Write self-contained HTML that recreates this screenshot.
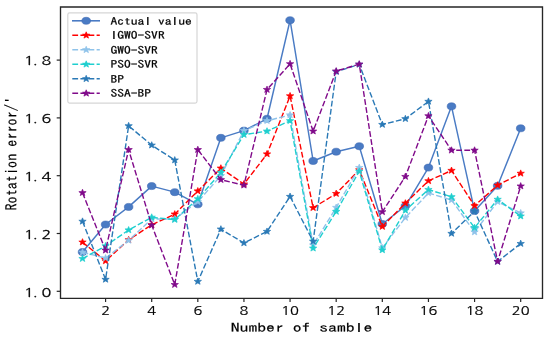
<!DOCTYPE html><html><head><meta charset="utf-8"><style>html,body{margin:0;padding:0;background:#fff;overflow:hidden}svg{display:block;filter:blur(0.4px)}</style></head><body><svg width="550" height="337" viewBox="0 0 550 337"><rect x="0" y="0" width="550" height="337" fill="#fff"/><g><polyline points="82.51,252.00 105.57,224.54 128.63,206.91 151.70,186.10 174.76,192.17 197.82,204.31 220.88,137.84 243.94,130.62 267.01,118.77 290.07,20.22 313.13,160.96 336.19,151.71 359.26,146.22 382.32,223.96 405.38,206.05 428.44,167.61 451.50,106.34 474.57,210.96 497.63,185.81 520.69,128.30" fill="none" stroke="#4a7bc4" stroke-width="1.45"  stroke-linejoin="round"/><ellipse cx="82.51" cy="252.00" rx="4.30" ry="3.50" fill="#4a7bc4" stroke="#3d68b3" stroke-width="0.6"/><ellipse cx="105.57" cy="224.54" rx="4.30" ry="3.50" fill="#4a7bc4" stroke="#3d68b3" stroke-width="0.6"/><ellipse cx="128.63" cy="206.91" rx="4.30" ry="3.50" fill="#4a7bc4" stroke="#3d68b3" stroke-width="0.6"/><ellipse cx="151.70" cy="186.10" rx="4.30" ry="3.50" fill="#4a7bc4" stroke="#3d68b3" stroke-width="0.6"/><ellipse cx="174.76" cy="192.17" rx="4.30" ry="3.50" fill="#4a7bc4" stroke="#3d68b3" stroke-width="0.6"/><ellipse cx="197.82" cy="204.31" rx="4.30" ry="3.50" fill="#4a7bc4" stroke="#3d68b3" stroke-width="0.6"/><ellipse cx="220.88" cy="137.84" rx="4.30" ry="3.50" fill="#4a7bc4" stroke="#3d68b3" stroke-width="0.6"/><ellipse cx="243.94" cy="130.62" rx="4.30" ry="3.50" fill="#4a7bc4" stroke="#3d68b3" stroke-width="0.6"/><ellipse cx="267.01" cy="118.77" rx="4.30" ry="3.50" fill="#4a7bc4" stroke="#3d68b3" stroke-width="0.6"/><ellipse cx="290.07" cy="20.22" rx="4.30" ry="3.50" fill="#4a7bc4" stroke="#3d68b3" stroke-width="0.6"/><ellipse cx="313.13" cy="160.96" rx="4.30" ry="3.50" fill="#4a7bc4" stroke="#3d68b3" stroke-width="0.6"/><ellipse cx="336.19" cy="151.71" rx="4.30" ry="3.50" fill="#4a7bc4" stroke="#3d68b3" stroke-width="0.6"/><ellipse cx="359.26" cy="146.22" rx="4.30" ry="3.50" fill="#4a7bc4" stroke="#3d68b3" stroke-width="0.6"/><ellipse cx="382.32" cy="223.96" rx="4.30" ry="3.50" fill="#4a7bc4" stroke="#3d68b3" stroke-width="0.6"/><ellipse cx="405.38" cy="206.05" rx="4.30" ry="3.50" fill="#4a7bc4" stroke="#3d68b3" stroke-width="0.6"/><ellipse cx="428.44" cy="167.61" rx="4.30" ry="3.50" fill="#4a7bc4" stroke="#3d68b3" stroke-width="0.6"/><ellipse cx="451.50" cy="106.34" rx="4.30" ry="3.50" fill="#4a7bc4" stroke="#3d68b3" stroke-width="0.6"/><ellipse cx="474.57" cy="210.96" rx="4.30" ry="3.50" fill="#4a7bc4" stroke="#3d68b3" stroke-width="0.6"/><ellipse cx="497.63" cy="185.81" rx="4.30" ry="3.50" fill="#4a7bc4" stroke="#3d68b3" stroke-width="0.6"/><ellipse cx="520.69" cy="128.30" rx="4.30" ry="3.50" fill="#4a7bc4" stroke="#3d68b3" stroke-width="0.6"/><polyline points="82.51,242.17 105.57,260.96 128.63,239.86 151.70,224.83 174.76,214.14 197.82,191.02 220.88,168.19 243.94,184.08 267.01,154.03 290.07,95.94 313.13,207.78 336.19,193.62 359.26,169.92 382.32,226.56 405.38,203.16 428.44,180.90 451.50,170.50 474.57,205.76 497.63,185.24 520.69,173.39" fill="none" stroke="#ff0000" stroke-width="1.4" stroke-dasharray="5.8,2.3" stroke-linejoin="round"/><polygon points="82.51,238.67 81.56,240.98 78.85,241.09 80.97,242.62 80.25,245.00 82.51,243.64 84.77,245.00 84.05,242.62 86.17,241.09 83.46,240.98" fill="#ff0000" stroke="#ff0000" stroke-width="0.7" stroke-linejoin="miter"/><polygon points="105.57,257.46 104.62,259.77 101.91,259.87 104.03,261.41 103.31,263.79 105.57,262.43 107.83,263.79 107.11,261.41 109.23,259.87 106.52,259.77" fill="#ff0000" stroke="#ff0000" stroke-width="0.7" stroke-linejoin="miter"/><polygon points="128.63,236.36 127.68,238.67 124.97,238.78 127.10,240.31 126.37,242.69 128.63,241.33 130.90,242.69 130.17,240.31 132.30,238.78 129.58,238.67" fill="#ff0000" stroke="#ff0000" stroke-width="0.7" stroke-linejoin="miter"/><polygon points="151.70,221.33 150.75,223.64 148.03,223.75 150.16,225.28 149.43,227.66 151.70,226.30 153.96,227.66 153.23,225.28 155.36,223.75 152.65,223.64" fill="#ff0000" stroke="#ff0000" stroke-width="0.7" stroke-linejoin="miter"/><polygon points="174.76,210.64 173.81,212.95 171.10,213.06 173.22,214.59 172.49,216.97 174.76,215.61 177.02,216.97 176.30,214.59 178.42,213.06 175.71,212.95" fill="#ff0000" stroke="#ff0000" stroke-width="0.7" stroke-linejoin="miter"/><polygon points="197.82,187.52 196.87,189.83 194.16,189.94 196.28,191.47 195.56,193.85 197.82,192.49 200.08,193.85 199.36,191.47 201.48,189.94 198.77,189.83" fill="#ff0000" stroke="#ff0000" stroke-width="0.7" stroke-linejoin="miter"/><polygon points="220.88,164.69 219.93,167.00 217.22,167.10 219.34,168.64 218.62,171.02 220.88,169.66 223.15,171.02 222.42,168.64 224.54,167.10 221.83,167.00" fill="#ff0000" stroke="#ff0000" stroke-width="0.7" stroke-linejoin="miter"/><polygon points="243.94,180.58 242.99,182.89 240.28,183.00 242.41,184.54 241.68,186.91 243.94,185.55 246.21,186.91 245.48,184.54 247.61,183.00 244.89,182.89" fill="#ff0000" stroke="#ff0000" stroke-width="0.7" stroke-linejoin="miter"/><polygon points="267.01,150.53 266.06,152.84 263.35,152.94 265.47,154.48 264.74,156.86 267.01,155.50 269.27,156.86 268.54,154.48 270.67,152.94 267.96,152.84" fill="#ff0000" stroke="#ff0000" stroke-width="0.7" stroke-linejoin="miter"/><polygon points="290.07,92.44 289.12,94.75 286.41,94.85 288.53,96.39 287.81,98.77 290.07,97.41 292.33,98.77 291.61,96.39 293.73,94.85 291.02,94.75" fill="#ff0000" stroke="#ff0000" stroke-width="0.7" stroke-linejoin="miter"/><polygon points="313.13,204.28 312.18,206.59 309.47,206.70 311.59,208.23 310.87,210.61 313.13,209.25 315.39,210.61 314.67,208.23 316.79,206.70 314.08,206.59" fill="#ff0000" stroke="#ff0000" stroke-width="0.7" stroke-linejoin="miter"/><polygon points="336.19,190.12 335.24,192.43 332.53,192.54 334.66,194.07 333.93,196.45 336.19,195.09 338.46,196.45 337.73,194.07 339.85,192.54 337.14,192.43" fill="#ff0000" stroke="#ff0000" stroke-width="0.7" stroke-linejoin="miter"/><polygon points="359.26,166.42 358.31,168.73 355.59,168.84 357.72,170.37 356.99,172.75 359.26,171.39 361.52,172.75 360.79,170.37 362.92,168.84 360.21,168.73" fill="#ff0000" stroke="#ff0000" stroke-width="0.7" stroke-linejoin="miter"/><polygon points="382.32,223.06 381.37,225.37 378.66,225.48 380.78,227.02 380.05,229.40 382.32,228.03 384.58,229.40 383.86,227.02 385.98,225.48 383.27,225.37" fill="#ff0000" stroke="#ff0000" stroke-width="0.7" stroke-linejoin="miter"/><polygon points="405.38,199.66 404.43,201.97 401.72,202.07 403.84,203.61 403.12,205.99 405.38,204.63 407.64,205.99 406.92,203.61 409.04,202.07 406.33,201.97" fill="#ff0000" stroke="#ff0000" stroke-width="0.7" stroke-linejoin="miter"/><polygon points="428.44,177.40 427.49,179.71 424.78,179.82 426.90,181.36 426.18,183.73 428.44,182.37 430.71,183.73 429.98,181.36 432.10,179.82 429.39,179.71" fill="#ff0000" stroke="#ff0000" stroke-width="0.7" stroke-linejoin="miter"/><polygon points="451.50,167.00 450.55,169.31 447.84,169.42 449.97,170.95 449.24,173.33 451.50,171.97 453.77,173.33 453.04,170.95 455.17,169.42 452.45,169.31" fill="#ff0000" stroke="#ff0000" stroke-width="0.7" stroke-linejoin="miter"/><polygon points="474.57,202.26 473.62,204.57 470.90,204.67 473.03,206.21 472.30,208.59 474.57,207.23 476.83,208.59 476.10,206.21 478.23,204.67 475.52,204.57" fill="#ff0000" stroke="#ff0000" stroke-width="0.7" stroke-linejoin="miter"/><polygon points="497.63,181.74 496.68,184.05 493.97,184.16 496.09,185.69 495.37,188.07 497.63,186.71 499.89,188.07 499.17,185.69 501.29,184.16 498.58,184.05" fill="#ff0000" stroke="#ff0000" stroke-width="0.7" stroke-linejoin="miter"/><polygon points="520.69,169.89 519.74,172.20 517.03,172.31 519.15,173.84 518.43,176.22 520.69,174.86 522.95,176.22 522.23,173.84 524.35,172.31 521.64,172.20" fill="#ff0000" stroke="#ff0000" stroke-width="0.7" stroke-linejoin="miter"/><polyline points="82.51,252.29 105.57,258.06 128.63,240.44 151.70,219.05 174.76,219.05 197.82,201.71 220.88,175.70 243.94,130.62 267.01,120.79 290.07,115.01 313.13,245.06 336.19,207.49 359.26,167.61 382.32,247.95 405.38,217.61 428.44,193.04 451.50,199.98 474.57,232.05 497.63,201.71 520.69,212.98" fill="none" stroke="#8fc3ea" stroke-width="1.4" stroke-dasharray="5.8,2.3" stroke-linejoin="round"/><polygon points="82.51,248.79 81.56,251.10 78.85,251.20 80.97,252.74 80.25,255.12 82.51,253.76 84.77,255.12 84.05,252.74 86.17,251.20 83.46,251.10" fill="#8fc3ea" stroke="#8fc3ea" stroke-width="0.7" stroke-linejoin="miter"/><polygon points="105.57,254.56 104.62,256.88 101.91,256.98 104.03,258.52 103.31,260.90 105.57,259.54 107.83,260.90 107.11,258.52 109.23,256.98 106.52,256.88" fill="#8fc3ea" stroke="#8fc3ea" stroke-width="0.7" stroke-linejoin="miter"/><polygon points="128.63,236.94 127.68,239.25 124.97,239.35 127.10,240.89 126.37,243.27 128.63,241.91 130.90,243.27 130.17,240.89 132.30,239.35 129.58,239.25" fill="#8fc3ea" stroke="#8fc3ea" stroke-width="0.7" stroke-linejoin="miter"/><polygon points="151.70,215.55 150.75,217.86 148.03,217.97 150.16,219.50 149.43,221.88 151.70,220.52 153.96,221.88 153.23,219.50 155.36,217.97 152.65,217.86" fill="#8fc3ea" stroke="#8fc3ea" stroke-width="0.7" stroke-linejoin="miter"/><polygon points="174.76,215.55 173.81,217.86 171.10,217.97 173.22,219.50 172.49,221.88 174.76,220.52 177.02,221.88 176.30,219.50 178.42,217.97 175.71,217.86" fill="#8fc3ea" stroke="#8fc3ea" stroke-width="0.7" stroke-linejoin="miter"/><polygon points="197.82,198.21 196.87,200.52 194.16,200.63 196.28,202.16 195.56,204.54 197.82,203.18 200.08,204.54 199.36,202.16 201.48,200.63 198.77,200.52" fill="#8fc3ea" stroke="#8fc3ea" stroke-width="0.7" stroke-linejoin="miter"/><polygon points="220.88,172.20 219.93,174.51 217.22,174.62 219.34,176.15 218.62,178.53 220.88,177.17 223.15,178.53 222.42,176.15 224.54,174.62 221.83,174.51" fill="#8fc3ea" stroke="#8fc3ea" stroke-width="0.7" stroke-linejoin="miter"/><polygon points="243.94,127.12 242.99,129.43 240.28,129.53 242.41,131.07 241.68,133.45 243.94,132.09 246.21,133.45 245.48,131.07 247.61,129.53 244.89,129.43" fill="#8fc3ea" stroke="#8fc3ea" stroke-width="0.7" stroke-linejoin="miter"/><polygon points="267.01,117.29 266.06,119.60 263.35,119.71 265.47,121.24 264.74,123.62 267.01,122.26 269.27,123.62 268.54,121.24 270.67,119.71 267.96,119.60" fill="#8fc3ea" stroke="#8fc3ea" stroke-width="0.7" stroke-linejoin="miter"/><polygon points="290.07,111.51 289.12,113.82 286.41,113.93 288.53,115.46 287.81,117.84 290.07,116.48 292.33,117.84 291.61,115.46 293.73,113.93 291.02,113.82" fill="#8fc3ea" stroke="#8fc3ea" stroke-width="0.7" stroke-linejoin="miter"/><polygon points="313.13,241.56 312.18,243.87 309.47,243.98 311.59,245.51 310.87,247.89 313.13,246.53 315.39,247.89 314.67,245.51 316.79,243.98 314.08,243.87" fill="#8fc3ea" stroke="#8fc3ea" stroke-width="0.7" stroke-linejoin="miter"/><polygon points="336.19,203.99 335.24,206.30 332.53,206.41 334.66,207.94 333.93,210.32 336.19,208.96 338.46,210.32 337.73,207.94 339.85,206.41 337.14,206.30" fill="#8fc3ea" stroke="#8fc3ea" stroke-width="0.7" stroke-linejoin="miter"/><polygon points="359.26,164.11 358.31,166.42 355.59,166.53 357.72,168.06 356.99,170.44 359.26,169.08 361.52,170.44 360.79,168.06 362.92,166.53 360.21,166.42" fill="#8fc3ea" stroke="#8fc3ea" stroke-width="0.7" stroke-linejoin="miter"/><polygon points="382.32,244.45 381.37,246.76 378.66,246.87 380.78,248.40 380.05,250.78 382.32,249.42 384.58,250.78 383.86,248.40 385.98,246.87 383.27,246.76" fill="#8fc3ea" stroke="#8fc3ea" stroke-width="0.7" stroke-linejoin="miter"/><polygon points="405.38,214.11 404.43,216.42 401.72,216.52 403.84,218.06 403.12,220.44 405.38,219.08 407.64,220.44 406.92,218.06 409.04,216.52 406.33,216.42" fill="#8fc3ea" stroke="#8fc3ea" stroke-width="0.7" stroke-linejoin="miter"/><polygon points="428.44,189.54 427.49,191.85 424.78,191.96 426.90,193.49 426.18,195.87 428.44,194.51 430.71,195.87 429.98,193.49 432.10,191.96 429.39,191.85" fill="#8fc3ea" stroke="#8fc3ea" stroke-width="0.7" stroke-linejoin="miter"/><polygon points="451.50,196.48 450.55,198.79 447.84,198.89 449.97,200.43 449.24,202.81 451.50,201.45 453.77,202.81 453.04,200.43 455.17,198.89 452.45,198.79" fill="#8fc3ea" stroke="#8fc3ea" stroke-width="0.7" stroke-linejoin="miter"/><polygon points="474.57,228.55 473.62,230.87 470.90,230.97 473.03,232.51 472.30,234.89 474.57,233.52 476.83,234.89 476.10,232.51 478.23,230.97 475.52,230.87" fill="#8fc3ea" stroke="#8fc3ea" stroke-width="0.7" stroke-linejoin="miter"/><polygon points="497.63,198.21 496.68,200.52 493.97,200.63 496.09,202.16 495.37,204.54 497.63,203.18 499.89,204.54 499.17,202.16 501.29,200.63 498.58,200.52" fill="#8fc3ea" stroke="#8fc3ea" stroke-width="0.7" stroke-linejoin="miter"/><polygon points="520.69,209.48 519.74,211.79 517.03,211.90 519.15,213.44 518.43,215.81 520.69,214.45 522.95,215.81 522.23,213.44 524.35,211.90 521.64,211.79" fill="#8fc3ea" stroke="#8fc3ea" stroke-width="0.7" stroke-linejoin="miter"/><polyline points="82.51,258.64 105.57,245.93 128.63,230.03 151.70,217.32 174.76,219.63 197.82,198.82 220.88,172.52 243.94,134.66 267.01,131.19 290.07,120.79 313.13,248.24 336.19,211.54 359.26,171.37 382.32,249.97 405.38,210.38 428.44,189.57 451.50,196.80 474.57,227.72 497.63,199.40 520.69,216.16" fill="none" stroke="#1fcfcf" stroke-width="1.4" stroke-dasharray="5.8,2.3" stroke-linejoin="round"/><polygon points="82.51,255.14 81.56,257.45 78.85,257.56 80.97,259.10 80.25,261.47 82.51,260.11 84.77,261.47 84.05,259.10 86.17,257.56 83.46,257.45" fill="#1fcfcf" stroke="#1fcfcf" stroke-width="0.7" stroke-linejoin="miter"/><polygon points="105.57,242.43 104.62,244.74 101.91,244.85 104.03,246.38 103.31,248.76 105.57,247.40 107.83,248.76 107.11,246.38 109.23,244.85 106.52,244.74" fill="#1fcfcf" stroke="#1fcfcf" stroke-width="0.7" stroke-linejoin="miter"/><polygon points="128.63,226.53 127.68,228.84 124.97,228.95 127.10,230.49 126.37,232.86 128.63,231.50 130.90,232.86 130.17,230.49 132.30,228.95 129.58,228.84" fill="#1fcfcf" stroke="#1fcfcf" stroke-width="0.7" stroke-linejoin="miter"/><polygon points="151.70,213.82 150.75,216.13 148.03,216.23 150.16,217.77 149.43,220.15 151.70,218.79 153.96,220.15 153.23,217.77 155.36,216.23 152.65,216.13" fill="#1fcfcf" stroke="#1fcfcf" stroke-width="0.7" stroke-linejoin="miter"/><polygon points="174.76,216.13 173.81,218.44 171.10,218.55 173.22,220.08 172.49,222.46 174.76,221.10 177.02,222.46 176.30,220.08 178.42,218.55 175.71,218.44" fill="#1fcfcf" stroke="#1fcfcf" stroke-width="0.7" stroke-linejoin="miter"/><polygon points="197.82,195.32 196.87,197.63 194.16,197.74 196.28,199.27 195.56,201.65 197.82,200.29 200.08,201.65 199.36,199.27 201.48,197.74 198.77,197.63" fill="#1fcfcf" stroke="#1fcfcf" stroke-width="0.7" stroke-linejoin="miter"/><polygon points="220.88,169.02 219.93,171.33 217.22,171.44 219.34,172.98 218.62,175.35 220.88,173.99 223.15,175.35 222.42,172.98 224.54,171.44 221.83,171.33" fill="#1fcfcf" stroke="#1fcfcf" stroke-width="0.7" stroke-linejoin="miter"/><polygon points="243.94,131.16 242.99,133.47 240.28,133.58 242.41,135.12 241.68,137.49 243.94,136.13 246.21,137.49 245.48,135.12 247.61,133.58 244.89,133.47" fill="#1fcfcf" stroke="#1fcfcf" stroke-width="0.7" stroke-linejoin="miter"/><polygon points="267.01,127.69 266.06,130.00 263.35,130.11 265.47,131.65 264.74,134.03 267.01,132.66 269.27,134.03 268.54,131.65 270.67,130.11 267.96,130.00" fill="#1fcfcf" stroke="#1fcfcf" stroke-width="0.7" stroke-linejoin="miter"/><polygon points="290.07,117.29 289.12,119.60 286.41,119.71 288.53,121.24 287.81,123.62 290.07,122.26 292.33,123.62 291.61,121.24 293.73,119.71 291.02,119.60" fill="#1fcfcf" stroke="#1fcfcf" stroke-width="0.7" stroke-linejoin="miter"/><polygon points="313.13,244.74 312.18,247.05 309.47,247.16 311.59,248.69 310.87,251.07 313.13,249.71 315.39,251.07 314.67,248.69 316.79,247.16 314.08,247.05" fill="#1fcfcf" stroke="#1fcfcf" stroke-width="0.7" stroke-linejoin="miter"/><polygon points="336.19,208.04 335.24,210.35 332.53,210.45 334.66,211.99 333.93,214.37 336.19,213.01 338.46,214.37 337.73,211.99 339.85,210.45 337.14,210.35" fill="#1fcfcf" stroke="#1fcfcf" stroke-width="0.7" stroke-linejoin="miter"/><polygon points="359.26,167.87 358.31,170.18 355.59,170.28 357.72,171.82 356.99,174.20 359.26,172.84 361.52,174.20 360.79,171.82 362.92,170.28 360.21,170.18" fill="#1fcfcf" stroke="#1fcfcf" stroke-width="0.7" stroke-linejoin="miter"/><polygon points="382.32,246.47 381.37,248.78 378.66,248.89 380.78,250.43 380.05,252.80 382.32,251.44 384.58,252.80 383.86,250.43 385.98,248.89 383.27,248.78" fill="#1fcfcf" stroke="#1fcfcf" stroke-width="0.7" stroke-linejoin="miter"/><polygon points="405.38,206.88 404.43,209.19 401.72,209.30 403.84,210.83 403.12,213.21 405.38,211.85 407.64,213.21 406.92,210.83 409.04,209.30 406.33,209.19" fill="#1fcfcf" stroke="#1fcfcf" stroke-width="0.7" stroke-linejoin="miter"/><polygon points="428.44,186.07 427.49,188.38 424.78,188.49 426.90,190.03 426.18,192.40 428.44,191.04 430.71,192.40 429.98,190.03 432.10,188.49 429.39,188.38" fill="#1fcfcf" stroke="#1fcfcf" stroke-width="0.7" stroke-linejoin="miter"/><polygon points="451.50,193.30 450.55,195.61 447.84,195.72 449.97,197.25 449.24,199.63 451.50,198.27 453.77,199.63 453.04,197.25 455.17,195.72 452.45,195.61" fill="#1fcfcf" stroke="#1fcfcf" stroke-width="0.7" stroke-linejoin="miter"/><polygon points="474.57,224.22 473.62,226.53 470.90,226.64 473.03,228.17 472.30,230.55 474.57,229.19 476.83,230.55 476.10,228.17 478.23,226.64 475.52,226.53" fill="#1fcfcf" stroke="#1fcfcf" stroke-width="0.7" stroke-linejoin="miter"/><polygon points="497.63,195.90 496.68,198.21 493.97,198.32 496.09,199.85 495.37,202.23 497.63,200.87 499.89,202.23 499.17,199.85 501.29,198.32 498.58,198.21" fill="#1fcfcf" stroke="#1fcfcf" stroke-width="0.7" stroke-linejoin="miter"/><polygon points="520.69,212.66 519.74,214.97 517.03,215.08 519.15,216.61 518.43,218.99 520.69,217.63 522.95,218.99 522.23,216.61 524.35,215.08 521.64,214.97" fill="#1fcfcf" stroke="#1fcfcf" stroke-width="0.7" stroke-linejoin="miter"/><polyline points="82.51,221.36 105.57,279.45 128.63,125.85 151.70,145.21 174.76,160.09 197.82,281.47 220.88,229.16 243.94,243.04 267.01,231.48 290.07,196.51 313.13,241.30 336.19,71.66 359.26,64.44 382.32,124.55 405.38,118.77 428.44,101.43 451.50,233.50 474.57,211.25 497.63,261.53 520.69,243.62" fill="none" stroke="#2a79b6" stroke-width="1.4" stroke-dasharray="5.8,2.3" stroke-linejoin="round"/><polygon points="82.51,217.86 81.56,220.17 78.85,220.28 80.97,221.82 80.25,224.19 82.51,222.83 84.77,224.19 84.05,221.82 86.17,220.28 83.46,220.17" fill="#2a79b6" stroke="#2a79b6" stroke-width="0.7" stroke-linejoin="miter"/><polygon points="105.57,275.95 104.62,278.26 101.91,278.37 104.03,279.91 103.31,282.28 105.57,280.92 107.83,282.28 107.11,279.91 109.23,278.37 106.52,278.26" fill="#2a79b6" stroke="#2a79b6" stroke-width="0.7" stroke-linejoin="miter"/><polygon points="128.63,122.35 127.68,124.66 124.97,124.77 127.10,126.30 126.37,128.68 128.63,127.32 130.90,128.68 130.17,126.30 132.30,124.77 129.58,124.66" fill="#2a79b6" stroke="#2a79b6" stroke-width="0.7" stroke-linejoin="miter"/><polygon points="151.70,141.71 150.75,144.02 148.03,144.13 150.16,145.66 149.43,148.04 151.70,146.68 153.96,148.04 153.23,145.66 155.36,144.13 152.65,144.02" fill="#2a79b6" stroke="#2a79b6" stroke-width="0.7" stroke-linejoin="miter"/><polygon points="174.76,156.59 173.81,158.90 171.10,159.01 173.22,160.55 172.49,162.93 174.76,161.56 177.02,162.93 176.30,160.55 178.42,159.01 175.71,158.90" fill="#2a79b6" stroke="#2a79b6" stroke-width="0.7" stroke-linejoin="miter"/><polygon points="197.82,277.97 196.87,280.28 194.16,280.39 196.28,281.93 195.56,284.31 197.82,282.94 200.08,284.31 199.36,281.93 201.48,280.39 198.77,280.28" fill="#2a79b6" stroke="#2a79b6" stroke-width="0.7" stroke-linejoin="miter"/><polygon points="220.88,225.66 219.93,227.98 217.22,228.08 219.34,229.62 218.62,232.00 220.88,230.63 223.15,232.00 222.42,229.62 224.54,228.08 221.83,227.98" fill="#2a79b6" stroke="#2a79b6" stroke-width="0.7" stroke-linejoin="miter"/><polygon points="243.94,239.54 242.99,241.85 240.28,241.96 242.41,243.49 241.68,245.87 243.94,244.51 246.21,245.87 245.48,243.49 247.61,241.96 244.89,241.85" fill="#2a79b6" stroke="#2a79b6" stroke-width="0.7" stroke-linejoin="miter"/><polygon points="267.01,227.98 266.06,230.29 263.35,230.40 265.47,231.93 264.74,234.31 267.01,232.95 269.27,234.31 268.54,231.93 270.67,230.40 267.96,230.29" fill="#2a79b6" stroke="#2a79b6" stroke-width="0.7" stroke-linejoin="miter"/><polygon points="290.07,193.01 289.12,195.32 286.41,195.43 288.53,196.96 287.81,199.34 290.07,197.98 292.33,199.34 291.61,196.96 293.73,195.43 291.02,195.32" fill="#2a79b6" stroke="#2a79b6" stroke-width="0.7" stroke-linejoin="miter"/><polygon points="313.13,237.80 312.18,240.11 309.47,240.22 311.59,241.76 310.87,244.13 313.13,242.77 315.39,244.13 314.67,241.76 316.79,240.22 314.08,240.11" fill="#2a79b6" stroke="#2a79b6" stroke-width="0.7" stroke-linejoin="miter"/><polygon points="336.19,68.16 335.24,70.47 332.53,70.58 334.66,72.11 333.93,74.49 336.19,73.13 338.46,74.49 337.73,72.11 339.85,70.58 337.14,70.47" fill="#2a79b6" stroke="#2a79b6" stroke-width="0.7" stroke-linejoin="miter"/><polygon points="359.26,60.94 358.31,63.25 355.59,63.35 357.72,64.89 356.99,67.27 359.26,65.91 361.52,67.27 360.79,64.89 362.92,63.35 360.21,63.25" fill="#2a79b6" stroke="#2a79b6" stroke-width="0.7" stroke-linejoin="miter"/><polygon points="382.32,121.05 381.37,123.36 378.66,123.47 380.78,125.00 380.05,127.38 382.32,126.02 384.58,127.38 383.86,125.00 385.98,123.47 383.27,123.36" fill="#2a79b6" stroke="#2a79b6" stroke-width="0.7" stroke-linejoin="miter"/><polygon points="405.38,115.27 404.43,117.58 401.72,117.69 403.84,119.22 403.12,121.60 405.38,120.24 407.64,121.60 406.92,119.22 409.04,117.69 406.33,117.58" fill="#2a79b6" stroke="#2a79b6" stroke-width="0.7" stroke-linejoin="miter"/><polygon points="428.44,97.93 427.49,100.24 424.78,100.35 426.90,101.88 426.18,104.26 428.44,102.90 430.71,104.26 429.98,101.88 432.10,100.35 429.39,100.24" fill="#2a79b6" stroke="#2a79b6" stroke-width="0.7" stroke-linejoin="miter"/><polygon points="451.50,230.00 450.55,232.31 447.84,232.42 449.97,233.95 449.24,236.33 451.50,234.97 453.77,236.33 453.04,233.95 455.17,232.42 452.45,232.31" fill="#2a79b6" stroke="#2a79b6" stroke-width="0.7" stroke-linejoin="miter"/><polygon points="474.57,207.75 473.62,210.06 470.90,210.17 473.03,211.70 472.30,214.08 474.57,212.72 476.83,214.08 476.10,211.70 478.23,210.17 475.52,210.06" fill="#2a79b6" stroke="#2a79b6" stroke-width="0.7" stroke-linejoin="miter"/><polygon points="497.63,258.03 496.68,260.34 493.97,260.45 496.09,261.99 495.37,264.36 497.63,263.00 499.89,264.36 499.17,261.99 501.29,260.45 498.58,260.34" fill="#2a79b6" stroke="#2a79b6" stroke-width="0.7" stroke-linejoin="miter"/><polygon points="520.69,240.12 519.74,242.43 517.03,242.53 519.15,244.07 518.43,246.45 520.69,245.09 522.95,246.45 522.23,244.07 524.35,242.53 521.64,242.43" fill="#2a79b6" stroke="#2a79b6" stroke-width="0.7" stroke-linejoin="miter"/><polyline points="82.51,192.75 105.57,250.26 128.63,149.69 151.70,225.12 174.76,284.65 197.82,149.69 220.88,179.75 243.94,185.24 267.01,89.58 290.07,63.86 313.13,131.19 336.19,71.08 359.26,64.15 382.32,211.83 405.38,176.57 428.44,115.88 451.50,150.27 474.57,150.27 497.63,261.53 520.69,186.10" fill="none" stroke="#800a8a" stroke-width="1.4" stroke-dasharray="5.8,2.3" stroke-linejoin="round"/><polygon points="82.51,189.25 81.56,191.56 78.85,191.67 80.97,193.21 80.25,195.58 82.51,194.22 84.77,195.58 84.05,193.21 86.17,191.67 83.46,191.56" fill="#800a8a" stroke="#800a8a" stroke-width="0.7" stroke-linejoin="miter"/><polygon points="105.57,246.76 104.62,249.07 101.91,249.18 104.03,250.72 103.31,253.09 105.57,251.73 107.83,253.09 107.11,250.72 109.23,249.18 106.52,249.07" fill="#800a8a" stroke="#800a8a" stroke-width="0.7" stroke-linejoin="miter"/><polygon points="128.63,146.19 127.68,148.50 124.97,148.61 127.10,150.14 126.37,152.52 128.63,151.16 130.90,152.52 130.17,150.14 132.30,148.61 129.58,148.50" fill="#800a8a" stroke="#800a8a" stroke-width="0.7" stroke-linejoin="miter"/><polygon points="151.70,221.62 150.75,223.93 148.03,224.04 150.16,225.57 149.43,227.95 151.70,226.59 153.96,227.95 153.23,225.57 155.36,224.04 152.65,223.93" fill="#800a8a" stroke="#800a8a" stroke-width="0.7" stroke-linejoin="miter"/><polygon points="174.76,281.15 173.81,283.46 171.10,283.57 173.22,285.11 172.49,287.48 174.76,286.12 177.02,287.48 176.30,285.11 178.42,283.57 175.71,283.46" fill="#800a8a" stroke="#800a8a" stroke-width="0.7" stroke-linejoin="miter"/><polygon points="197.82,146.19 196.87,148.50 194.16,148.61 196.28,150.14 195.56,152.52 197.82,151.16 200.08,152.52 199.36,150.14 201.48,148.61 198.77,148.50" fill="#800a8a" stroke="#800a8a" stroke-width="0.7" stroke-linejoin="miter"/><polygon points="220.88,176.25 219.93,178.56 217.22,178.66 219.34,180.20 218.62,182.58 220.88,181.22 223.15,182.58 222.42,180.20 224.54,178.66 221.83,178.56" fill="#800a8a" stroke="#800a8a" stroke-width="0.7" stroke-linejoin="miter"/><polygon points="243.94,181.74 242.99,184.05 240.28,184.16 242.41,185.69 241.68,188.07 243.94,186.71 246.21,188.07 245.48,185.69 247.61,184.16 244.89,184.05" fill="#800a8a" stroke="#800a8a" stroke-width="0.7" stroke-linejoin="miter"/><polygon points="267.01,86.08 266.06,88.39 263.35,88.50 265.47,90.03 264.74,92.41 267.01,91.05 269.27,92.41 268.54,90.03 270.67,88.50 267.96,88.39" fill="#800a8a" stroke="#800a8a" stroke-width="0.7" stroke-linejoin="miter"/><polygon points="290.07,60.36 289.12,62.67 286.41,62.78 288.53,64.31 287.81,66.69 290.07,65.33 292.33,66.69 291.61,64.31 293.73,62.78 291.02,62.67" fill="#800a8a" stroke="#800a8a" stroke-width="0.7" stroke-linejoin="miter"/><polygon points="313.13,127.69 312.18,130.00 309.47,130.11 311.59,131.65 310.87,134.03 313.13,132.66 315.39,134.03 314.67,131.65 316.79,130.11 314.08,130.00" fill="#800a8a" stroke="#800a8a" stroke-width="0.7" stroke-linejoin="miter"/><polygon points="336.19,67.58 335.24,69.89 332.53,70.00 334.66,71.54 333.93,73.91 336.19,72.55 338.46,73.91 337.73,71.54 339.85,70.00 337.14,69.89" fill="#800a8a" stroke="#800a8a" stroke-width="0.7" stroke-linejoin="miter"/><polygon points="359.26,60.65 358.31,62.96 355.59,63.06 357.72,64.60 356.99,66.98 359.26,65.62 361.52,66.98 360.79,64.60 362.92,63.06 360.21,62.96" fill="#800a8a" stroke="#800a8a" stroke-width="0.7" stroke-linejoin="miter"/><polygon points="382.32,208.33 381.37,210.64 378.66,210.74 380.78,212.28 380.05,214.66 382.32,213.30 384.58,214.66 383.86,212.28 385.98,210.74 383.27,210.64" fill="#800a8a" stroke="#800a8a" stroke-width="0.7" stroke-linejoin="miter"/><polygon points="405.38,173.07 404.43,175.38 401.72,175.49 403.84,177.02 403.12,179.40 405.38,178.04 407.64,179.40 406.92,177.02 409.04,175.49 406.33,175.38" fill="#800a8a" stroke="#800a8a" stroke-width="0.7" stroke-linejoin="miter"/><polygon points="428.44,112.38 427.49,114.69 424.78,114.80 426.90,116.33 426.18,118.71 428.44,117.35 430.71,118.71 429.98,116.33 432.10,114.80 429.39,114.69" fill="#800a8a" stroke="#800a8a" stroke-width="0.7" stroke-linejoin="miter"/><polygon points="451.50,146.77 450.55,149.08 447.84,149.19 449.97,150.72 449.24,153.10 451.50,151.74 453.77,153.10 453.04,150.72 455.17,149.19 452.45,149.08" fill="#800a8a" stroke="#800a8a" stroke-width="0.7" stroke-linejoin="miter"/><polygon points="474.57,146.77 473.62,149.08 470.90,149.19 473.03,150.72 472.30,153.10 474.57,151.74 476.83,153.10 476.10,150.72 478.23,149.19 475.52,149.08" fill="#800a8a" stroke="#800a8a" stroke-width="0.7" stroke-linejoin="miter"/><polygon points="497.63,258.03 496.68,260.34 493.97,260.45 496.09,261.99 495.37,264.36 497.63,263.00 499.89,264.36 499.17,261.99 501.29,260.45 498.58,260.34" fill="#800a8a" stroke="#800a8a" stroke-width="0.7" stroke-linejoin="miter"/><polygon points="520.69,182.60 519.74,184.91 517.03,185.02 519.15,186.56 518.43,188.94 520.69,187.57 522.95,188.94 522.23,186.56 524.35,185.02 521.64,184.91" fill="#800a8a" stroke="#800a8a" stroke-width="0.7" stroke-linejoin="miter"/></g><path d="M60.50 7.00H542.50V298.40H60.50Z" fill="none" stroke="#262626" stroke-width="1.35" stroke-linejoin="miter"/><line x1="105.57" y1="298.40" x2="105.57" y2="302.00" stroke="#262626" stroke-width="1.2"/><text transform="translate(105.57,315.40) scale(1.1,1)" font-size="13.3" text-anchor="middle" font-family="NanumGothic,'Liberation Sans',sans-serif" stroke="#000" stroke-width="0.25">2</text><line x1="151.70" y1="298.40" x2="151.70" y2="302.00" stroke="#262626" stroke-width="1.2"/><text transform="translate(151.70,315.40) scale(1.1,1)" font-size="13.3" text-anchor="middle" font-family="NanumGothic,'Liberation Sans',sans-serif" stroke="#000" stroke-width="0.25">4</text><line x1="197.82" y1="298.40" x2="197.82" y2="302.00" stroke="#262626" stroke-width="1.2"/><text transform="translate(197.82,315.40) scale(1.1,1)" font-size="13.3" text-anchor="middle" font-family="NanumGothic,'Liberation Sans',sans-serif" stroke="#000" stroke-width="0.25">6</text><line x1="243.94" y1="298.40" x2="243.94" y2="302.00" stroke="#262626" stroke-width="1.2"/><text transform="translate(243.94,315.40) scale(1.1,1)" font-size="13.3" text-anchor="middle" font-family="NanumGothic,'Liberation Sans',sans-serif" stroke="#000" stroke-width="0.25">8</text><line x1="290.07" y1="298.40" x2="290.07" y2="302.00" stroke="#262626" stroke-width="1.2"/><text transform="translate(290.07,315.40) scale(1.1,1)" font-size="13.3" text-anchor="middle" font-family="NanumGothic,'Liberation Sans',sans-serif" stroke="#000" stroke-width="0.25">10</text><line x1="336.19" y1="298.40" x2="336.19" y2="302.00" stroke="#262626" stroke-width="1.2"/><text transform="translate(336.19,315.40) scale(1.1,1)" font-size="13.3" text-anchor="middle" font-family="NanumGothic,'Liberation Sans',sans-serif" stroke="#000" stroke-width="0.25">12</text><line x1="382.32" y1="298.40" x2="382.32" y2="302.00" stroke="#262626" stroke-width="1.2"/><text transform="translate(382.32,315.40) scale(1.1,1)" font-size="13.3" text-anchor="middle" font-family="NanumGothic,'Liberation Sans',sans-serif" stroke="#000" stroke-width="0.25">14</text><line x1="428.44" y1="298.40" x2="428.44" y2="302.00" stroke="#262626" stroke-width="1.2"/><text transform="translate(428.44,315.40) scale(1.1,1)" font-size="13.3" text-anchor="middle" font-family="NanumGothic,'Liberation Sans',sans-serif" stroke="#000" stroke-width="0.25">16</text><line x1="474.57" y1="298.40" x2="474.57" y2="302.00" stroke="#262626" stroke-width="1.2"/><text transform="translate(474.57,315.40) scale(1.1,1)" font-size="13.3" text-anchor="middle" font-family="NanumGothic,'Liberation Sans',sans-serif" stroke="#000" stroke-width="0.25">18</text><line x1="520.69" y1="298.40" x2="520.69" y2="302.00" stroke="#262626" stroke-width="1.2"/><text transform="translate(520.69,315.40) scale(1.1,1)" font-size="13.3" text-anchor="middle" font-family="NanumGothic,'Liberation Sans',sans-serif" stroke="#000" stroke-width="0.25">20</text><line x1="56.70" y1="291.30" x2="60.50" y2="291.30" stroke="#262626" stroke-width="1.2"/><text transform="translate(0,296.50) scale(1.25,1)" x="23.20 28.20 37.08" font-size="12.9" text-anchor="middle" font-family="NanumGothic,'Liberation Sans',sans-serif" stroke="#000" stroke-width="0.25">1.0</text><line x1="56.70" y1="233.50" x2="60.50" y2="233.50" stroke="#262626" stroke-width="1.2"/><text transform="translate(0,238.70) scale(1.25,1)" x="23.20 28.20 37.08" font-size="12.9" text-anchor="middle" font-family="NanumGothic,'Liberation Sans',sans-serif" stroke="#000" stroke-width="0.25">1.2</text><line x1="56.70" y1="175.70" x2="60.50" y2="175.70" stroke="#262626" stroke-width="1.2"/><text transform="translate(0,180.90) scale(1.25,1)" x="23.20 28.20 37.08" font-size="12.9" text-anchor="middle" font-family="NanumGothic,'Liberation Sans',sans-serif" stroke="#000" stroke-width="0.25">1.4</text><line x1="56.70" y1="117.90" x2="60.50" y2="117.90" stroke="#262626" stroke-width="1.2"/><text transform="translate(0,123.10) scale(1.25,1)" x="23.20 28.20 37.08" font-size="12.9" text-anchor="middle" font-family="NanumGothic,'Liberation Sans',sans-serif" stroke="#000" stroke-width="0.25">1.6</text><line x1="56.70" y1="60.10" x2="60.50" y2="60.10" stroke="#262626" stroke-width="1.2"/><text transform="translate(0,65.30) scale(1.25,1)" x="23.20 28.20 37.08" font-size="12.9" text-anchor="middle" font-family="NanumGothic,'Liberation Sans',sans-serif" stroke="#000" stroke-width="0.25">1.8</text><text transform="translate(301.50,331.50) scale(1.44,1)" font-size="12.3" text-anchor="middle" font-family="IPAGothic,'WenQuanYi Zen Hei Mono','Noto Sans Mono CJK SC',monospace" stroke="#000" stroke-width="0.15" >Number of samb<tspan font-family="'Liberation Sans',sans-serif" dx="1.71">l</tspan><tspan dx="1.71">e</tspan></text><text transform="translate(16.8,210.5) scale(1.1,1) rotate(-90)" font-size="14.2" text-anchor="start" font-family="IPAGothic,'WenQuanYi Zen Hei Mono','Noto Sans Mono CJK SC',monospace" stroke="#000" stroke-width="0.12">Rotat<tspan font-family="'Liberation Sans',sans-serif" dx="1.97">i</tspan><tspan dx="1.97">o</tspan>n error/<tspan font-family="'Liberation Sans',sans-serif" dx="2.4">'</tspan></text><rect x="67.8" y="12.9" width="129.2" height="90.2" rx="1.8" fill="#fff" fill-opacity="0.85" stroke="#d6d6d6" stroke-width="1.2"/><line x1="72" y1="20.80" x2="100" y2="20.80" stroke="#4a7bc4" stroke-width="1.6"/><ellipse cx="86.2" cy="20.80" rx="4.3" ry="3.5" fill="#4a7bc4" stroke="#3d68b3" stroke-width="0.6"/><text transform="translate(110.50,24.80) scale(1.29,1)" font-size="10.5" text-anchor="start" font-family="IPAGothic,'WenQuanYi Zen Hei Mono','Noto Sans Mono CJK SC',monospace" stroke="#000" stroke-width="0.2" >Actua<tspan font-family="'Liberation Sans',sans-serif" dx="1.46">l</tspan><tspan dx="1.46"> </tspan>va<tspan font-family="'Liberation Sans',sans-serif" dx="1.46">l</tspan><tspan dx="1.46">u</tspan>e</text><line x1="72.3" y1="35.30" x2="99.8" y2="35.30" stroke="#ff0000" stroke-width="1.5" stroke-dasharray="5.8,2.3"/><polygon points="86.20,31.80 85.25,34.11 82.54,34.22 84.66,35.75 83.94,38.13 86.20,36.77 88.46,38.13 87.74,35.75 89.86,34.22 87.15,34.11" fill="#ff0000" stroke="#ff0000" stroke-width="0.7" stroke-linejoin="miter"/><text transform="translate(110.50,39.30) scale(1.29,1)" font-size="10.5" text-anchor="start" font-family="IPAGothic,'WenQuanYi Zen Hei Mono','Noto Sans Mono CJK SC',monospace" stroke="#000" stroke-width="0.2" ><tspan font-family="'Liberation Sans',sans-serif" dx="1.17">I</tspan><tspan dx="1.17">G</tspan>WO-SVR</text><line x1="72.3" y1="49.80" x2="99.8" y2="49.80" stroke="#8fc3ea" stroke-width="1.5" stroke-dasharray="5.8,2.3"/><polygon points="86.20,46.30 85.25,48.61 82.54,48.72 84.66,50.25 83.94,52.63 86.20,51.27 88.46,52.63 87.74,50.25 89.86,48.72 87.15,48.61" fill="#8fc3ea" stroke="#8fc3ea" stroke-width="0.7" stroke-linejoin="miter"/><text transform="translate(110.50,53.80) scale(1.29,1)" font-size="10.5" text-anchor="start" font-family="IPAGothic,'WenQuanYi Zen Hei Mono','Noto Sans Mono CJK SC',monospace" stroke="#000" stroke-width="0.2" >GWO-SVR</text><line x1="72.3" y1="64.30" x2="99.8" y2="64.30" stroke="#1fcfcf" stroke-width="1.5" stroke-dasharray="5.8,2.3"/><polygon points="86.20,60.80 85.25,63.11 82.54,63.22 84.66,64.75 83.94,67.13 86.20,65.77 88.46,67.13 87.74,64.75 89.86,63.22 87.15,63.11" fill="#1fcfcf" stroke="#1fcfcf" stroke-width="0.7" stroke-linejoin="miter"/><text transform="translate(110.50,68.30) scale(1.29,1)" font-size="10.5" text-anchor="start" font-family="IPAGothic,'WenQuanYi Zen Hei Mono','Noto Sans Mono CJK SC',monospace" stroke="#000" stroke-width="0.2" >PSO-SVR</text><line x1="72.3" y1="78.80" x2="99.8" y2="78.80" stroke="#2a79b6" stroke-width="1.5" stroke-dasharray="5.8,2.3"/><polygon points="86.20,75.30 85.25,77.61 82.54,77.72 84.66,79.25 83.94,81.63 86.20,80.27 88.46,81.63 87.74,79.25 89.86,77.72 87.15,77.61" fill="#2a79b6" stroke="#2a79b6" stroke-width="0.7" stroke-linejoin="miter"/><text transform="translate(110.50,82.80) scale(1.29,1)" font-size="10.5" text-anchor="start" font-family="IPAGothic,'WenQuanYi Zen Hei Mono','Noto Sans Mono CJK SC',monospace" stroke="#000" stroke-width="0.2" >BP</text><line x1="72.3" y1="93.30" x2="99.8" y2="93.30" stroke="#800a8a" stroke-width="1.5" stroke-dasharray="5.8,2.3"/><polygon points="86.20,89.80 85.25,92.11 82.54,92.22 84.66,93.75 83.94,96.13 86.20,94.77 88.46,96.13 87.74,93.75 89.86,92.22 87.15,92.11" fill="#800a8a" stroke="#800a8a" stroke-width="0.7" stroke-linejoin="miter"/><text transform="translate(110.50,97.30) scale(1.29,1)" font-size="10.5" text-anchor="start" font-family="IPAGothic,'WenQuanYi Zen Hei Mono','Noto Sans Mono CJK SC',monospace" stroke="#000" stroke-width="0.2" >SSA-BP</text></svg></body></html>
